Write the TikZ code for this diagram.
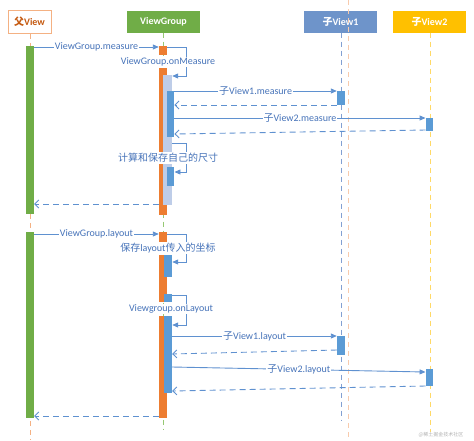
\documentclass[tikz,border=0pt]{standalone}
\usepackage{fontspec}
\setmainfont{Carlito}
\newfontfamily\cjk{Noto Sans CJK SC}
\usetikzlibrary{arrows.meta}
\definecolor{cgreen}{RGB}{112,173,71}
\definecolor{corange}{RGB}{237,125,49}
\definecolor{cbrown}{RGB}{197,90,17}
\definecolor{cblue}{RGB}{91,155,213}
\definecolor{clight}{RGB}{190,205,232}
\definecolor{chead}{RGB}{110,148,202}
\definecolor{cgold}{RGB}{255,192,0}
\definecolor{cline}{RGB}{95,145,208}
\definecolor{ctext}{RGB}{70,115,185}
\definecolor{lsalmon}{RGB}{244,177,131}
\definecolor{lgreen}{RGB}{150,200,115}
\definecolor{lblue}{RGB}{130,160,210}
\definecolor{lpeach}{RGB}{248,203,173}
\definecolor{lgold}{RGB}{255,217,102}
\begin{document}
\begin{tikzpicture}[x=1pt,y=-1pt,
  head/.style={rectangle, minimum width=73pt, minimum height=22pt, inner sep=0pt, font=\bfseries\fontsize{10}{12}\selectfont, text=white},
  life/.style={line width=1pt, dash pattern=on 5pt off 4pt},
  bar/.style={rectangle, inner sep=0pt, anchor=north, draw=none},
  gbar/.style={bar, fill=cgreen, minimum width=8pt},
  obar/.style={bar, fill=corange, minimum width=8pt},
  lbar/.style={bar, fill=clight, minimum width=9pt},
  bbar/.style={bar, fill=cblue, minimum width=7.5pt},
  msg/.style={draw=cline, line width=0.9pt, -{Triangle[length=6pt,width=5pt]}},
  ret/.style={draw=cline, line width=0.9pt, dash pattern=on 6pt off 4pt, -{Straight Barb[length=4pt,width=8pt]}},
  lbl/.style={fill=white, inner sep=1pt, text=ctext, font=\fontsize{10}{12}\selectfont},
]
\useasboundingbox (0,0) rectangle (474,440);

% headers
\node[head, minimum width=43pt, minimum height=23pt, fill=white, draw=lsalmon, line width=0.8pt, text=cbrown] (pvH) at (29.5,22) {{\cjk\bfseries 父}View};
\node[head, fill=cgreen] (vgH) at (163.5,21.5) {ViewGroup};
\node[head, fill=chead] (c1H) at (340.5,21.5) {{\cjk\bfseries 子}View1};
\node[head, fill=cgold] (c2H) at (429.5,21.5) {{\cjk\bfseries 子}View2};

% lifelines
\coordinate (pvEnd) at (30,440);
\coordinate (vgEnd) at (163,430);
\coordinate (c1End) at (341,420);
\coordinate (c2End) at (430,432);
\coordinate (pkTop) at (348,0);
\coordinate (pkEnd) at (348,440);
\draw[life, draw=lsalmon] (pvH.south -| pvEnd) -- (pvEnd);
\draw[life, draw=lgreen] (vgH.south -| vgEnd) -- (vgEnd);
\draw[life, draw=lblue] (c1H.south -| c1End) -- (c1End);
\draw[life, draw=lgold] (c2H.south -| c2End) -- (c2End);
\draw[life, draw=lpeach, line width=0.8pt] (pkTop) -- (pkEnd);

% activation bars
\node[gbar, minimum height=168pt] (pv1) at (30,46) {};
\node[gbar, minimum height=186pt] (pv2) at (30,232) {};
\node[obar, minimum height=9pt] (vgA) at (163,46) {};
\node[obar, minimum height=147pt] (vgB) at (163,68) {};
\node[lbar, minimum height=130pt] (lbB) at (167.5,75) {};
\node[bbar, minimum height=46pt] (bB1) at (170.5,91) {};
\node[bbar, minimum height=19pt] (bB2) at (170.5,167) {};
\node[bbar, minimum width=8pt, minimum height=14pt] (c1A) at (341,91) {};
\node[bbar, minimum height=13pt] (c2A) at (429.5,118) {};
\node[obar, minimum height=10pt] (vgC) at (163,232) {};
\node[obar, minimum height=47pt] (vgD) at (163,255) {};
\node[bbar, minimum width=8pt, minimum height=22pt] (bD1) at (168,255) {};
\node[bbar, minimum width=8pt, minimum height=8pt] (bD2) at (168,294) {};
\node[obar, minimum height=102pt] (vgE) at (163,316) {};
\node[bbar, minimum width=8pt, minimum height=77pt] (bE) at (168,316) {};
\node[bbar, minimum width=8pt, minimum height=19pt] (c1B) at (341,336) {};
\node[bbar, minimum height=17pt] (c2B) at (429.5,369) {};

% measure phase
\draw[msg] (pv1.east |- 0,47) -- (vgA.west |- 0,47) node[lbl, midway] (m1) {ViewGroup.measure};
\draw[msg] (vgA.east |- 0,47) -- (186,47) -- (186,76) -- (lbB.east |- 0,76);
\node[lbl] (m2) at (168,62) {ViewGroup.onMeasure};
\draw[msg] (bB1.east |- 0,91) -- (c1A.west |- 0,91) node[lbl, midway] (m3) {{\cjk 子}View1.measure};
\draw[ret] (c1A.west |- 0,105) -- (bB1.east |- 0,105);
\draw[msg] (bB1.east |- 0,118) -- (c2A.west |- 0,118) node[lbl, midway] (m5) {{\cjk 子}View2.measure};
\draw[ret] (c2A.west |- 0,130) -- (bB1.east |- 0,134);
\draw[msg] (lbB.east |- 0,143) -- (186,143) -- (186,172) -- (bB2.east |- 0,172);
\node[lbl] (m7) at (168,158) {\cjk 计算和保存自己的尺寸};
\draw[ret] (vgB.west |- 0,204) -- (pv1.east |- 0,204);

% layout phase
\draw[msg] (pv2.east |- 0,234) -- (vgC.west |- 0,234) node[lbl, midway] (m9) {ViewGroup.layout};
\draw[msg] (vgC.east |- 0,234) -- (186,234) -- (186,262) -- (bD1.east |- 0,262);
\node[lbl] (m10) at (168,248) {{\cjk 保存}layout{\cjk 传入的坐标}};
\draw[msg] (bD2.east |- 0,295) -- (186,295) -- (186,325) -- (bE.east |- 0,325);
\node[lbl] (m11) at (171,309) {Viewgroup.onLayout};
\draw[msg] (bE.east |- 0,336) -- (c1B.west |- 0,336) node[lbl, midway] (m12) {{\cjk 子}View1.layout};
\draw[ret] (c1B.west |- 0,350) -- (bE.east |- 0,354);
\draw[msg] (bE.east |- 0,367) -- (c2B.west |- 0,372) node[lbl, midway] (m14) {{\cjk 子}View2.layout};
\draw[ret] (c2B.west |- 0,386) -- (bE.east |- 0,391);
\draw[ret] (vgE.west |- 0,416) -- (pv2.east |- 0,416);

% watermark
\node[text=black!30, font=\cjk\fontsize{5}{6}\selectfont, inner sep=0pt] (wm) at (441,435) {@稀土掘金技术社区};
\end{tikzpicture}
\end{document}
